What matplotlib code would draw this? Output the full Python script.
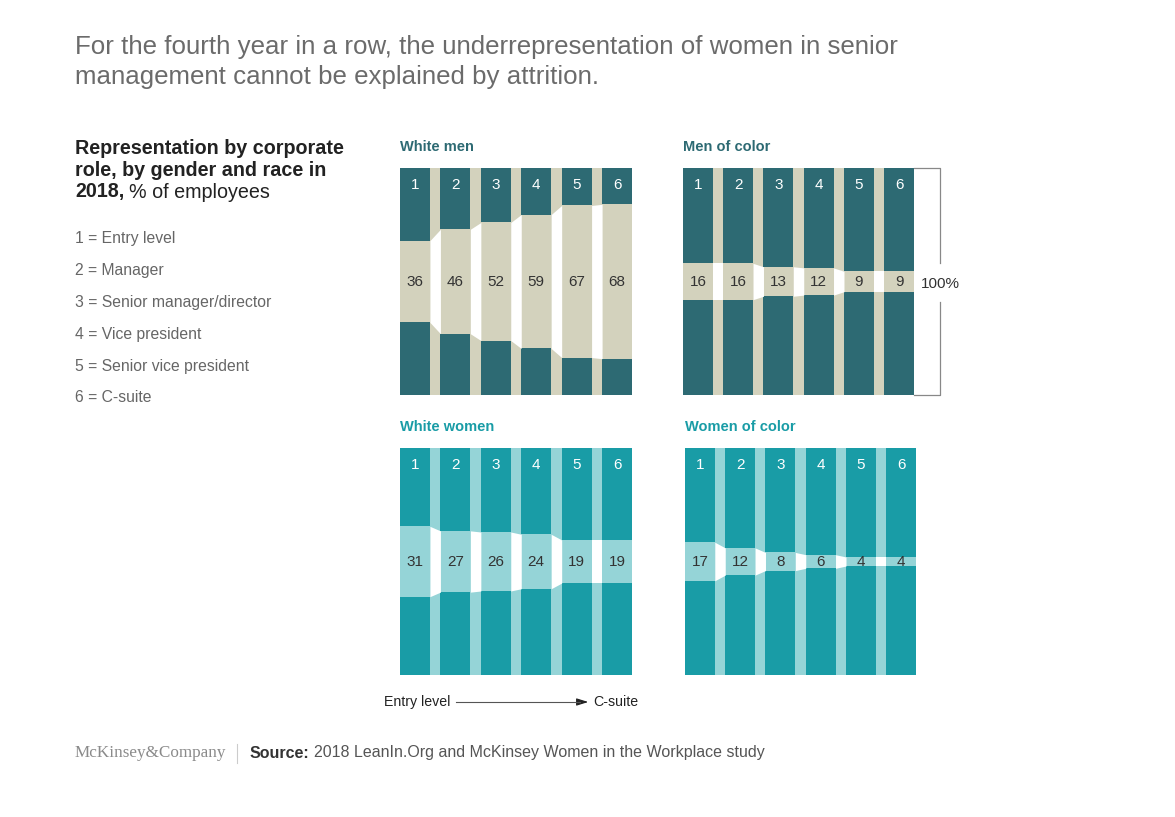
import matplotlib.pyplot as plt

plt.rcParams['font.family'] = ['Liberation Sans', 'DejaVu Sans']

# data: % of employees at each level (1 = entry level ... 6 = C-suite)
levels = ['1', '2', '3', '4', '5', '6']
white_men = [36, 46, 52, 59, 67, 68]
men_of_color = [16, 16, 13, 12, 9, 9]
white_women = [31, 27, 26, 24, 19, 19]
women_of_color = [17, 12, 8, 6, 4, 4]

legend_items = ['1 = Entry level', '2 = Manager', '3 = Senior manager/director',
                '4 = Vice president', '5 = Senior vice president', '6 = C-suite']
title_lines = ['For the fourth year in a row, the underrepresentation of women in senior',
               'management cannot be explained by attrition.']
sub_lines = ['Representation by corporate', 'role, by gender and race in']

DARK_M, LIGHT_M = '#2d6a73', '#d3d2bd'
DARK_W, LIGHT_W = '#199ca6', '#95d4d7'
W, H = 1175, 817

fig = plt.figure(figsize=(W / 100, H / 100), dpi=100)
fig.patch.set_facecolor('white')


def px_axes(left, top, right, bottom):
    return fig.add_axes([left / W, 1 - bottom / H, (right - left) / W, (bottom - top) / H])


def panel(ax, values, dark, light, title, title_color):
    bw = 0.74
    x = list(range(len(values)))
    lo = [50 - v / 2 for v in values]
    hi = [50 + v / 2 for v in values]
    ax.set_facecolor(light)
    ax.bar(x, lo, width=bw, color=dark, linewidth=0)
    ax.bar(x, [100 - h for h in hi], bottom=hi, width=bw, color=dark, linewidth=0)
    for i in range(len(values) - 1):
        xs = [i + bw / 2, i + 1 - bw / 2]
        ax.fill_between(xs, [lo[i], lo[i + 1]], [hi[i], hi[i + 1]], color='white', linewidth=0)
    for i, v in enumerate(values):
        ax.text(i, 92.5, levels[i], ha='center', va='center', color='white', fontsize=11)
        ax.text(i, 50, str(v), ha='center', va='center', color='#333333', fontsize=11)
    ax.set_xlim(-bw / 2, len(values) - 1 + bw / 2)
    ax.set_ylim(0, 100)
    ax.set_xticks([])
    ax.set_yticks([])
    for s in ax.spines.values():
        s.set_visible(False)
    ax.text(0, 1.06, title, transform=ax.transAxes, ha='left', va='bottom',
            color=title_color, fontsize=10.5, fontweight='bold')


ax1 = px_axes(400, 168, 632, 395)
panel(ax1, white_men, DARK_M, LIGHT_M, 'White men', DARK_M)
ax2 = px_axes(683, 168, 914, 395)
panel(ax2, men_of_color, DARK_M, LIGHT_M, 'Men of color', DARK_M)
ax3 = px_axes(400, 448, 632, 675)
panel(ax3, white_women, DARK_W, LIGHT_W, 'White women', DARK_W)
ax4 = px_axes(685, 448, 916, 675)
panel(ax4, women_of_color, DARK_W, LIGHT_W, 'Women of color', DARK_W)

# 100% bracket
bx = 1 + 26 / 231
ax2.plot([1.0, bx, bx], [1, 1, 0.58], transform=ax2.transAxes, color='#888888', lw=0.9, clip_on=False)
ax2.plot([1.0, bx, bx], [0, 0, 0.41], transform=ax2.transAxes, color='#888888', lw=0.9, clip_on=False)
ax2.text(bx, 0.49, '100%', transform=ax2.transAxes, ha='center', va='center', fontsize=11, color='#333333')

# titles
for k, line in enumerate(title_lines):
    fig.text(75 / W, 1 - (47 + 30 * k) / H, line, ha='left', va='center', fontsize=18.6, color='#6b6b6b')
for k, line in enumerate(sub_lines):
    fig.text(75 / W, 1 - (148 + 22 * k) / H, line, ha='left', va='center', fontsize=14.2,
             fontweight='bold', color='#222222')
fig.canvas.draw()
r = fig.canvas.get_renderer()
t2018 = fig.text(75 / W, 1 - 192 / H, '2018,', ha='left', va='center', fontsize=14.2,
                 fontweight='bold', color='#222222')
w2018 = t2018.get_window_extent(r).width
fig.text((75 + w2018 + 5) / W, 1 - 192 / H, '% of employees', ha='left', va='center',
         fontsize=14.2, color='#222222')

for k, item in enumerate(legend_items):
    fig.text(75 / W, 1 - (238 + 32 * k) / H, item, ha='left', va='center', fontsize=11.3, color='#666666')

# entry level -> C-suite
fig.text(450 / W, 1 - 702 / H, 'Entry level', ha='right', va='center', fontsize=10.2, color='#222222')
fig.text(593 / W, 1 - 702 / H, 'C-suite', ha='left', va='center', fontsize=10.2, color='#222222')
fig.add_artist(plt.Line2D([456 / W, 580 / W], [1 - 702 / H] * 2, color='#555555', lw=0.8))
ax1.annotate('', xy=(591 / W, 1 - 702 / H), xytext=(578 / W, 1 - 702 / H), xycoords='figure fraction',
             arrowprops=dict(arrowstyle='-|>,head_length=0.7,head_width=0.22', color='#222222', lw=0.8))

# footer
fig.text(75 / W, 1 - 753 / H, 'McKinsey&Company', family='Liberation Serif', fontsize=12.3,
         color='#8a8a8a', ha='left', va='center')
fig.add_artist(plt.Line2D([237 / W, 237 / W], [1 - 744 / H, 1 - 763 / H], color='#cccccc', lw=0.8))
src = fig.text(250 / W, 1 - 753 / H, 'Source:', fontsize=11.5, fontweight='bold', color='#333333',
               ha='left', va='center')
ws = src.get_window_extent(r).width
fig.text((250 + ws + 4) / W, 1 - 753 / H, '2018 LeanIn.Org and McKinsey Women in the Workplace study',
         fontsize=11.5, color='#555555', ha='left', va='center')

fig.savefig('out.png', dpi=100)
